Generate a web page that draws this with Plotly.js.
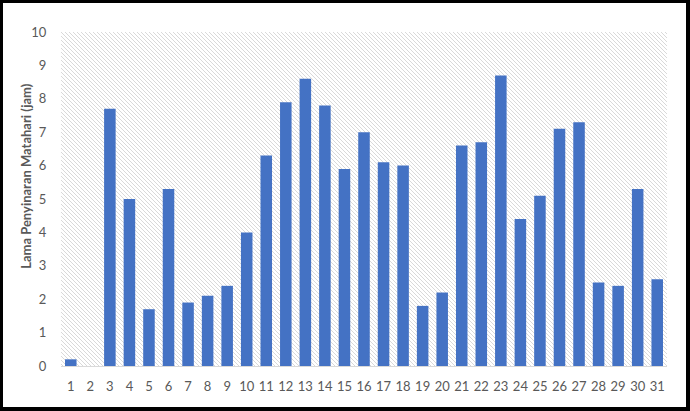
<!DOCTYPE html>
<html>
<head>
<meta charset="utf-8">
<script src="https://cdn.plot.ly/plotly-3.0.1.min.js"></script>
<style>
  html, body { margin: 0; padding: 0; background: #fff; }
  #wrap { position: relative; width: 690px; height: 411px; }
  #chart { width: 690px; height: 411px; }
  #frame { position: absolute; left: 0; top: 0; width: 690px; height: 411px; box-sizing: border-box;
           border-top: 3px solid #000; border-left: 3px solid #000; border-right: 4px solid #000; border-bottom: 4px solid #000;
           pointer-events: none; }
</style>
</head>
<body>
<div id="wrap">
  <div id="chart"></div>
  <div id="frame"></div>
</div>
<script>
// Data
const days = ['1','2','3','4','5','6','7','8','9','10','11','12','13','14','15','16','17','18','19','20','21','22','23','24','25','26','27','28','29','30','31'];
const sunshineHours = [0.2, 0, 7.7, 5.0, 1.7, 5.3, 1.9, 2.1, 2.4, 4.0, 6.3, 7.9, 8.6, 7.8, 5.9, 7.0, 6.1, 6.0, 1.8, 2.2, 6.6, 6.7, 8.7, 4.4, 5.1, 7.1, 7.3, 2.5, 2.4, 5.3, 2.6];
const yTitle = 'Lama Penyinaran Matahari (jam)';

const hatchSvg = "<svg xmlns='http://www.w3.org/2000/svg' width='606' height='334'>" +
  "<defs><pattern id='p' width='4' height='4' patternUnits='userSpaceOnUse'>" +
  "<path d='M-1,-1 L5,5 M-1,3 L1,5 M3,-1 L5,1' stroke='#cfcfcf' stroke-width='0.8'/>" +
  "</pattern></defs><rect width='100%' height='100%' fill='url(#p)'/></svg>";
const hatchUri = 'data:image/svg+xml;charset=utf-8,' + encodeURIComponent(hatchSvg);

const trace = {
  type: 'bar',
  x: days,
  y: sunshineHours,
  marker: { color: '#4472C4' },
  hoverinfo: 'x+y'
};

const layout = {
  width: 690,
  height: 411,
  margin: { l: 61, r: 23, t: 32, b: 45 },
  paper_bgcolor: '#ffffff',
  plot_bgcolor: 'rgba(0,0,0,0)',
  bargap: 0.41,
  showlegend: false,
  font: { family: 'Lato, "Open Sans", sans-serif', color: '#595959', size: 13 },
  images: [{
    source: hatchUri,
    xref: 'paper', yref: 'paper',
    x: 0, y: 1, sizex: 1, sizey: 1,
    xanchor: 'left', yanchor: 'top',
    sizing: 'stretch',
    layer: 'below'
  }],
  annotations: [{
    text: '<b>' + yTitle + '</b>',
    xref: 'paper', yref: 'paper',
    x: -0.058, y: 0.569,
    xanchor: 'center', yanchor: 'middle',
    textangle: -90,
    showarrow: false,
    font: { size: 13, color: '#595959', family: 'Lato, sans-serif' }
  }],
  xaxis: {
    type: 'category',
    showgrid: false,
    zeroline: false,
    showline: true,
    linecolor: '#d9d9d9',
    linewidth: 1,
    ticks: 'outside',
    ticklen: 8,
    tickcolor: 'rgba(0,0,0,0)',
    tickfont: { size: 13, color: '#595959' },
    fixedrange: true
  },
  yaxis: {
    range: [0, 10],
    dtick: 1,
    showgrid: false,
    zeroline: false,
    showline: false,
    ticks: 'outside',
    ticklen: 11,
    tickcolor: 'rgba(0,0,0,0)',
    tickfont: { size: 13, color: '#595959' },
    fixedrange: true
  }
};

Plotly.newPlot('chart', [trace], layout, { displayModeBar: false, staticPlot: true });
</script>
</body>
</html>
